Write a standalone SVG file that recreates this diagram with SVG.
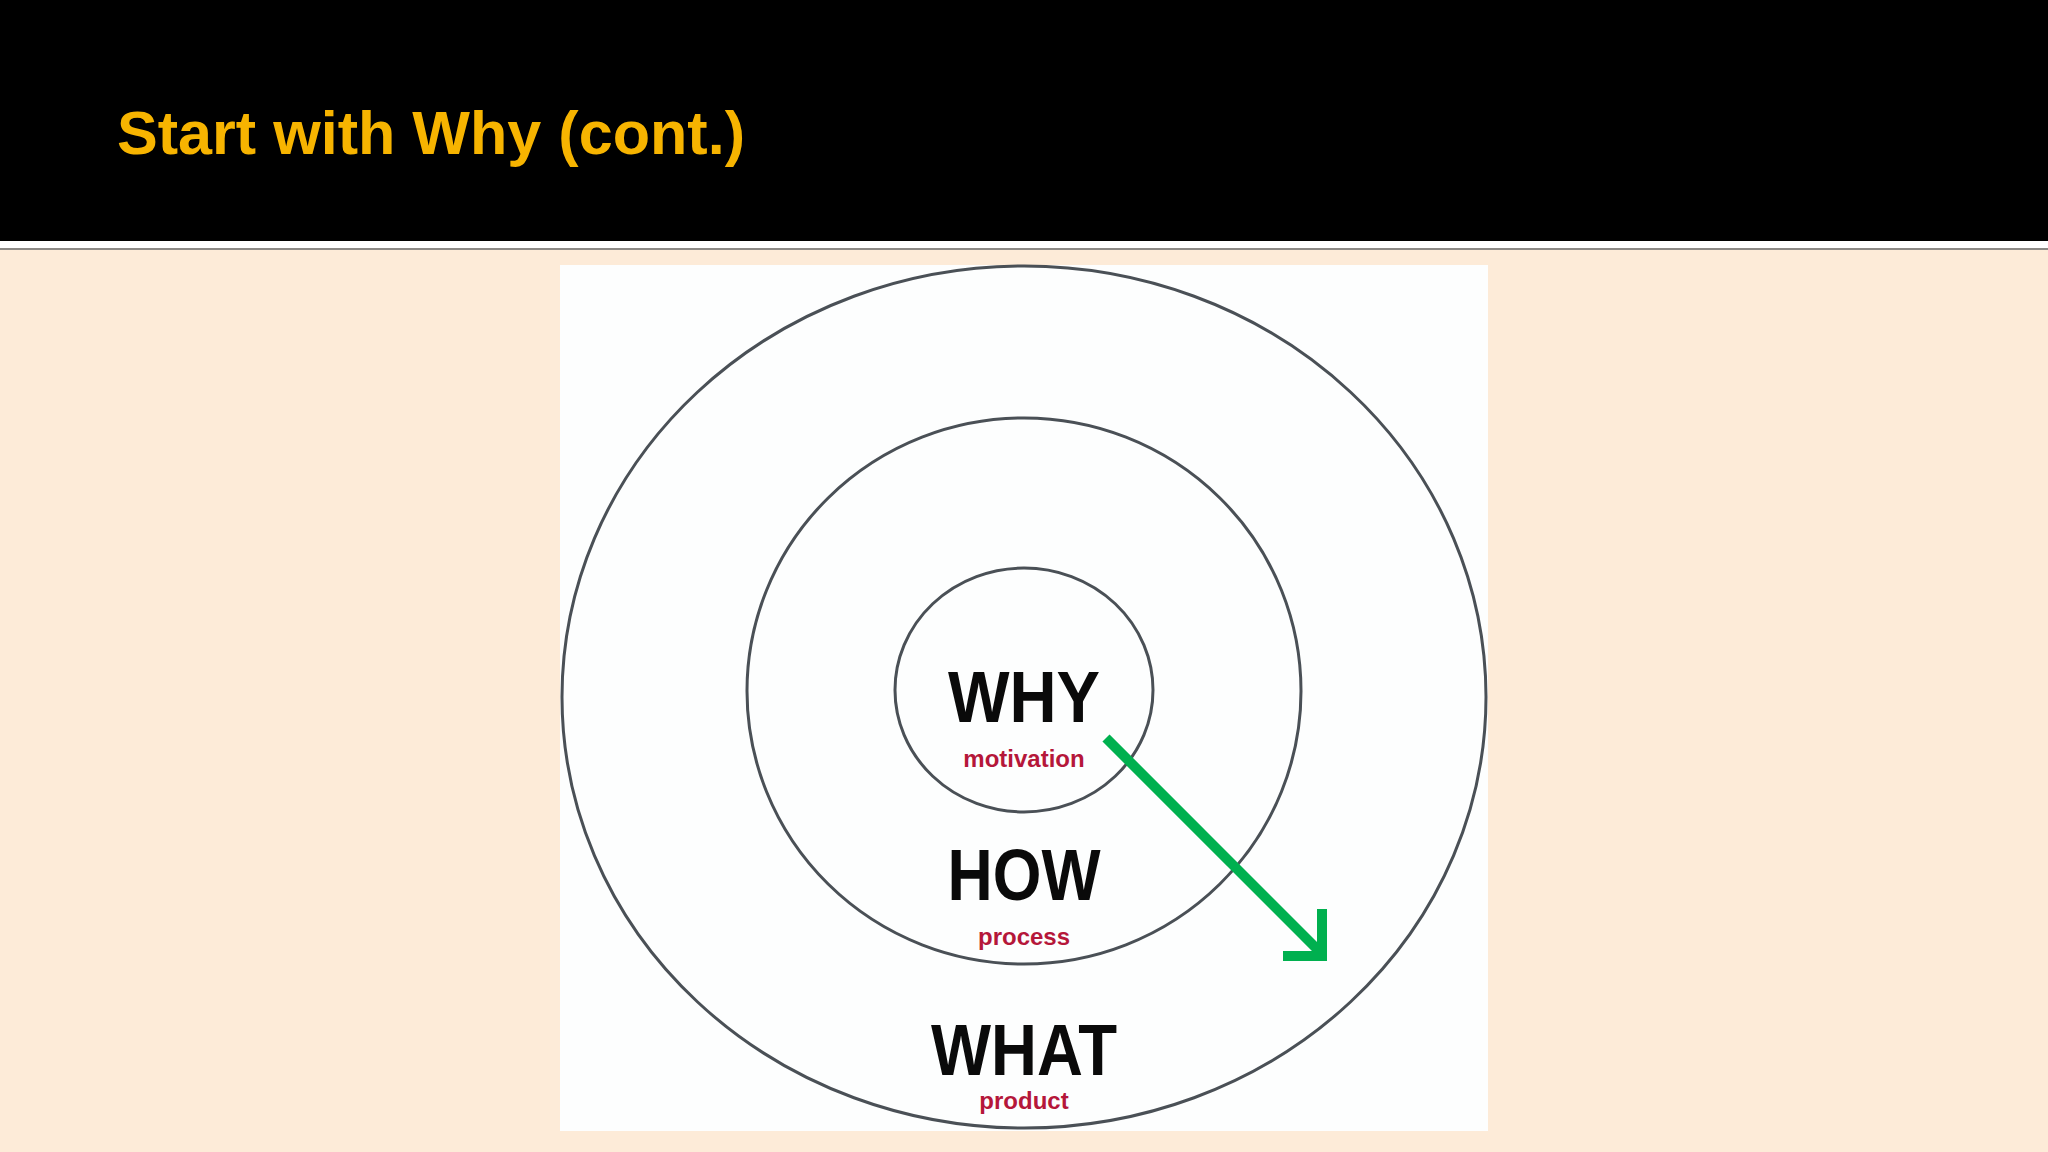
<svg xmlns="http://www.w3.org/2000/svg" width="2048" height="1152" viewBox="0 0 2048 1152">
  <style>
    .ring { fill: none; stroke: #4a5056; stroke-width: 3; }
    .big { font-family: "Liberation Sans", Arial, sans-serif; font-weight: bold; font-size: 72px; fill: #0a0a0a; text-anchor: middle; }
    .small { font-family: "Liberation Sans", Arial, sans-serif; font-weight: bold; font-size: 24px; fill: #b5173a; text-anchor: middle; }
    .arrow { fill: none; stroke: #00b04f; stroke-width: 10; }
  </style>
  <rect x="0" y="0" width="2048" height="1152" fill="#fdebd8"/>
  <rect x="0" y="0" width="2048" height="241" fill="#000000"/>
  <rect x="0" y="241" width="2048" height="7" fill="#ffffff"/>
  <line x1="0" y1="249" x2="2048" y2="249" stroke="#8d8a86" stroke-width="2"/>
  <text x="117" y="154" font-family="'Liberation Sans', Arial, sans-serif" font-weight="bold" font-size="62" fill="#f7b400" textLength="628" lengthAdjust="spacingAndGlyphs">Start with Why (cont.)</text>
  <rect x="560" y="265" width="928" height="866" fill="#fdfefe"/>
  <g id="what">
    <ellipse class="ring" cx="1024" cy="697" rx="462" ry="431"/>
    <text class="big" x="1024" y="1075" textLength="186" lengthAdjust="spacingAndGlyphs">WHAT</text>
    <text class="small" x="1024" y="1109">product</text>
  </g>
  <g id="how">
    <ellipse class="ring" cx="1024" cy="691" rx="277" ry="273"/>
    <text class="big" x="1024" y="900" textLength="153" lengthAdjust="spacingAndGlyphs">HOW</text>
    <text class="small" x="1024" y="945">process</text>
  </g>
  <g id="why">
    <ellipse class="ring" cx="1024" cy="690" rx="129" ry="122"/>
    <text class="big" x="1024" y="722" textLength="152" lengthAdjust="spacingAndGlyphs">WHY</text>
    <text class="small" x="1024" y="767">motivation</text>
  </g>
  <g id="connectors">
    <line class="arrow" x1="1106" y1="738" x2="1320" y2="952"/>
    <polyline class="arrow" points="1322,909 1322,956 1283,956" stroke-linejoin="miter"/>
  </g>
</svg>
